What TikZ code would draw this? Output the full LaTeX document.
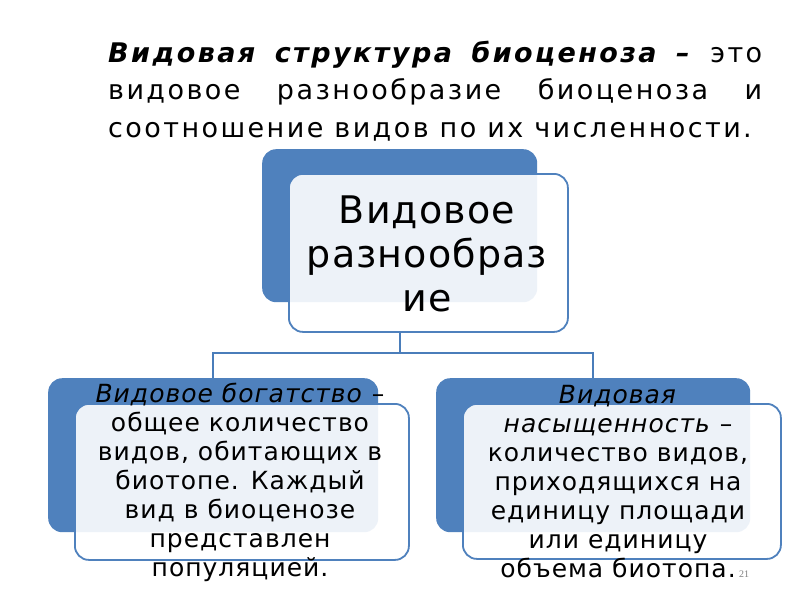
\documentclass[tikz,border=0pt]{standalone}
\usepackage{fontspec}
\setmainfont{DejaVu Sans}
\newfontfamily\numfont{Liberation Serif}
\definecolor{accent}{HTML}{4F81BD}
\definecolor{connc}{HTML}{4A7DBA}
\begin{document}
\begin{tikzpicture}[x=1pt,y=-1pt,
  darkbox/.style={fill=accent, draw=none, rounded corners=14pt, anchor=north west, inner sep=0pt},
  lightbox/.style={draw=accent, line width=1.8pt, fill=white, fill opacity=0.9, rounded corners=14pt, anchor=north west, inner sep=0pt},
  conn/.style={draw=connc, line width=1.8pt},
  titleline/.style={anchor=base west, inner sep=0pt, font=\fontsize{27}{32}\selectfont\addfontfeature{LetterSpace=9}},
  bigtext/.style={align=center, inner sep=0pt, font=\fontsize{38}{44}\selectfont\addfontfeature{LetterSpace=3}},
  smalltext/.style={align=center, inner sep=0pt, font=\fontsize{25}{29}\selectfont\addfontfeature{LetterSpace=4}}
]
\useasboundingbox (0,0) rectangle (800,600);
\fill[white] (0,0) rectangle (800,600);

% title
\node[titleline] (t1) at (108,62) {\makebox[654pt][s]{\textbf{\textit{Видовая структура биоценоза –}} это}};
\node[titleline] (t2) at (108,99) {\makebox[654pt][s]{видовое разнообразие биоценоза и}};
\node[titleline] (t3) at (108,137) {соотношение видов по их численности.};

% top box
\node[darkbox, minimum width=275pt, minimum height=153pt] (topdark) at (262,149) {};
\node[lightbox, minimum width=279pt, minimum height=158pt] (toplight) at (288,173) {};
\node[bigtext] (toptext) at (427,254) {Видовое\\разнообраз\\ие};

% left box
\node[darkbox, minimum width=330pt, minimum height=154pt] (leftdark) at (48,378) {};
\node[lightbox, minimum width=334pt, minimum height=156pt] (leftlight) at (74,403) {};
\node[smalltext] (lefttext) at (240,482) {\textit{Видовое богатство} –\\общее количество\\видов, обитающих в\\биотопе. Каждый\\вид в биоценозе\\представлен\\популяцией.};

% right box
\node[darkbox, minimum width=314pt, minimum height=154pt] (rightdark) at (436,378) {};
\node[lightbox, minimum width=318pt, minimum height=155pt] (rightlight) at (462,403) {};
\node[smalltext] (righttext) at (618,482) {\textit{Видовая}\\\textit{насыщенность} –\\количество видов,\\приходящихся на\\единицу площади\\или единицу\\объема биотопа.};

% connectors
\coordinate (hub) at (400,353);
\draw[conn] (topdark.center |- toplight.south) -- (topdark.center |- hub) -| (leftdark.north);
\draw[conn] (topdark.center |- hub) -| (rightdark.north);

% page number
\node[anchor=base west, inner sep=0pt, text=gray, font=\numfont\fontsize{10}{12}\selectfont] (pnum) at (739,577) {21};
\end{tikzpicture}
\end{document}
